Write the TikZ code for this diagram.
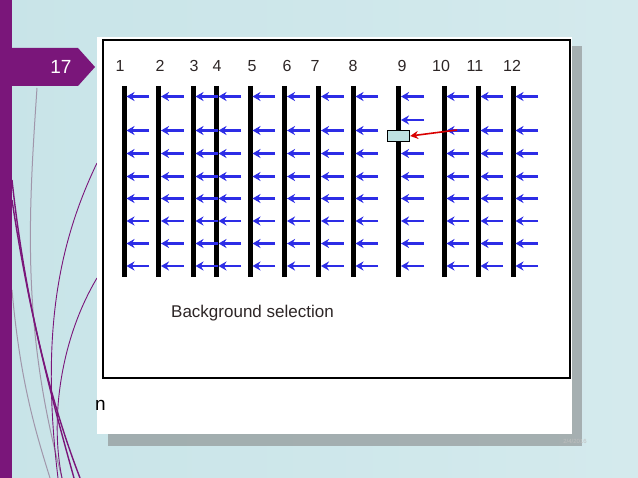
\documentclass[tikz,border=0pt]{standalone}
\usepackage{fontspec}
\setmainfont{Liberation Sans}
\usetikzlibrary{arrows.meta}
\definecolor{bgc}{RGB}{212,234,237}
\definecolor{bgc2}{RGB}{200,228,232}
\definecolor{purp}{RGB}{122,22,122}
\definecolor{lgray}{RGB}{160,150,170}
\definecolor{arrblue}{RGB}{45,45,230}
\definecolor{boxfill}{RGB}{190,225,225}
\definecolor{txtc}{RGB}{45,38,38}
\begin{document}
\begin{tikzpicture}[x=1pt,y=-1pt,
  barline/.style={line width=5pt,black},
  barrow/.style={arrblue,line width=2.2pt,-{Stealth[length=8pt,width=9pt]}},
  redarrow/.style={red!85!black,line width=1.6pt,-{Stealth[length=8pt,width=8pt]}},
  collabel/.style={text=txtc,font=\fontsize{16}{17}\selectfont,inner sep=0pt},
  deco/.style={purp,line width=1.4pt},
  decothin/.style={purp,line width=0.9pt},
  decogray/.style={lgray,line width=1pt}]
\useasboundingbox (0,0) rectangle (638,478);
% background
\shade[left color=bgc2,right color=bgc] (0,0) rectangle (638,478);
% decorative curves
\draw[decogray] (37,88) .. controls (28,220) and (22,330) .. (62,478);
\draw[decogray] (12,290) .. controls (20,380) and (35,430) .. (50,478);
\draw[decothin] (97,163) .. controls (60,240) and (40,330) .. (58,478);
\draw[decothin] (97,278) .. controls (60,340) and (50,420) .. (62,478);
\draw[deco] (12,180) .. controls (25,300) and (50,400) .. (80,478);
\draw[deco] (12,200) .. controls (30,320) and (55,410) .. (74,478);
% left bar and tab
\fill[purp] (0,0) rectangle (12,478);
\fill[purp] (12,48) -- (78,48) -- (95,67) -- (78,86) -- (12,86) -- cycle;
\node[text=white,font=\fontsize{19}{21}\selectfont] (num) at (61,67) {17};
% panel shadow
\fill[black!50,opacity=0.55] (572,46) rectangle (582,446);
\fill[black!50,opacity=0.55] (108,434) rectangle (572,446);
% white panel
\fill[white] (97,37) rectangle (572,434);
\draw[line width=1.4pt,black] (103,40) rectangle (570,378);
\node[anchor=west,inner sep=0pt,font=\fontsize{19}{21}\selectfont] (n) at (95,405) {n};
\node[text=black!25,font=\fontsize{6}{7}\selectfont] (date) at (575,441) {2/4/2016};
% columns
\foreach \i/\bx/\lx in {1/124/120,2/158.5/160,3/193/194,4/216/217,5/250/252,6/284.5/287,7/318.5/315,8/353/353,9/398.5/402,10/444/441,11/478/475,12/513/512}{
  \node[collabel] (lab\i) at (\lx,66) {\i};
  \coordinate (top\i) at (\bx,86);
  \coordinate (bot\i) at (\bx,277);
  \draw[barline] (top\i) -- (bot\i);
}
% arrows
\foreach \i/\bx in {1/124,2/158.5,3/193,4/216,5/250,6/284.5,7/318.5,8/353,10/444,11/478,12/513}{
  \foreach \r/\yy in {1/96.5,2/130.5,3/153.5,4/176.5,5/198.5,6/221,7/243.5,8/266}{
    \coordinate (t\i-\r) at (\bx+25,\yy);
    \coordinate (h\i-\r) at (\bx+2.5,\yy);
    \draw[barrow] (t\i-\r) -- (h\i-\r);
  }
}
\foreach \r/\yy in {1/96.5,2/120,3/153.5,4/176.5,5/198.5,6/221,7/243.5,8/266}{
  \coordinate (t9-\r) at (424,\yy);
  \coordinate (h9-\r) at (401,\yy);
  \draw[barrow] (t9-\r) -- (h9-\r);
}
% selected box
\node[draw=black,line width=1.3pt,fill=boxfill,minimum width=22pt,minimum height=11pt,inner sep=0pt] (sel) at (398.5,136) {};
\coordinate (redstart) at (457,130);
\draw[redarrow] (redstart) -- (sel.east);
% caption
\node[text=txtc,font=\fontsize{17}{19}\selectfont,anchor=west,inner sep=0pt] (cap) at (171,313.5) {Background selection};
\end{tikzpicture}
\end{document}
